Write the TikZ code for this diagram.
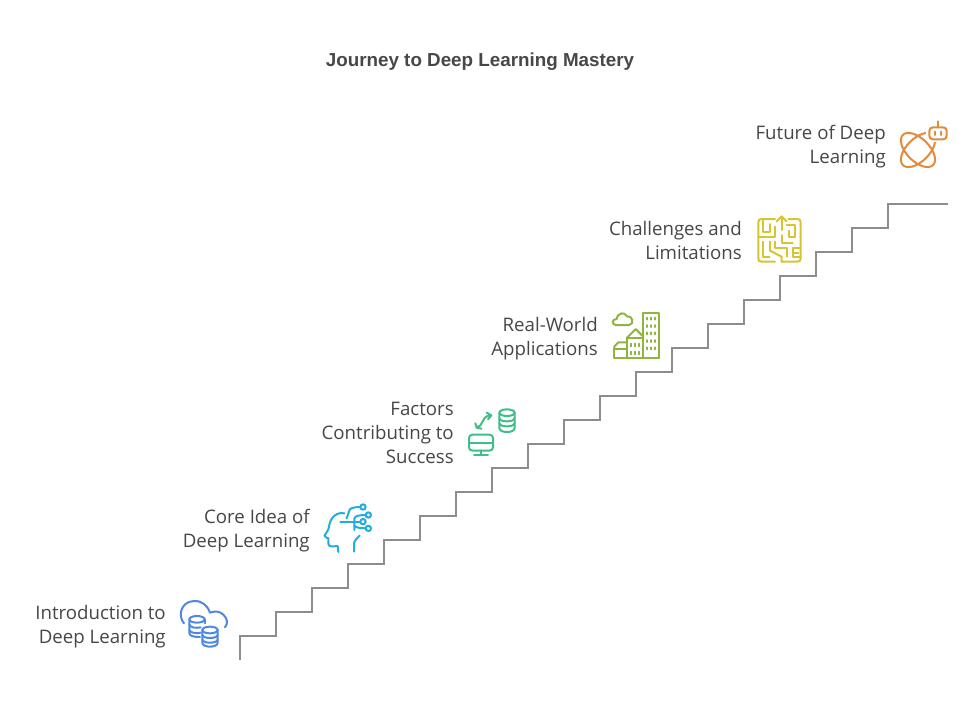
\documentclass[tikz,border=0pt]{standalone}
\usepackage{fontspec}
\setmainfont{Open Sans}
\newfontfamily\ttlfont{Liberation Sans}
\definecolor{ink}{HTML}{474747}
\definecolor{stair}{HTML}{8E8E8E}
\definecolor{cblue}{HTML}{4F88E3}
\definecolor{ccyan}{HTML}{22AEDC}
\definecolor{cgreen}{HTML}{3FBF87}
\definecolor{colive}{HTML}{8FB53F}
\definecolor{cyell}{HTML}{D6C431}
\definecolor{corange}{HTML}{E08B3D}
\tikzset{
  lab/.style={anchor=east,align=right,text=ink,inner sep=0pt,font=\fontsize{14pt}{18pt}\selectfont},
  ttl/.style={anchor=center,text=ink,inner sep=0pt,font=\ttlfont\fontsize{14.1pt}{18pt}\selectfont\bfseries},
  ico/.style={line width=1.5pt,line cap=round,line join=round,x=.25pt,y=-.25pt},
  stairline/.style={draw=stair,line width=1.5pt,line join=miter}
}
\begin{document}
\begin{tikzpicture}[x=.75pt,y=-.75pt]
\useasboundingbox (0,0) rectangle (972,708);
\fill[white] (0,0) rectangle (972,708);
\node[ttl] (title) at (480,62) {Journey to Deep Learning Mastery};
\draw[stairline] (240,660) |- (276,636) |- (312,612) |- (348,588) |- (384,564) |- (420,540) |- (456,516) |- (492,492) |- (528,468) |- (564,444) |- (600,420) |- (636,396) |- (672,372) |- (708,348) |- (744,324) |- (780,300) |- (816,276) |- (852,252) |- (888,228) |- (948,204);
\node[lab] (l1) at (166,627) {\strut Introduction to\\\strut Deep Learning};
\node[lab] (l2) at (310,531) {\strut Core Idea of\\\strut Deep Learning};
\node[lab] (l3) at (454,435) {\strut Factors\\\strut Contributing to\\\strut Success};
\node[lab] (l4) at (598,339) {\strut Real-World\\\strut Applications};
\node[lab] (l5) at (742,243) {\strut Challenges and\\\strut Limitations};
\node[lab] (l6) at (886,147) {\strut Future of Deep\\\strut Learning};
% icon 1
\begin{scope}[shift={(170,590)},ico,draw=cblue]
\draw (42,100) .. controls (24,80) and (30,35) .. (72,33) .. controls (95,32) and (112,45) .. (120,68) .. controls (135,62) and (150,64) .. (160,74) .. controls (172,85) and (175,100) .. (165,112);
\draw[fill=white] (58,88) arc[start angle=180,end angle=-180,x radius=23,y radius=10];
\draw (58,88) -- (58,130) .. controls (58,138) and (72,141) .. (90,141);
\draw (104,88) -- (104,100);
\draw (58,104) .. controls (60,113) and (80,115) .. (92,112);
\draw (58,120) .. controls (60,129) and (80,131) .. (92,128);
\draw[fill=white] (97,120) arc[start angle=180,end angle=-180,x radius=23,y radius=10];
\draw (97,120) -- (97,158) .. controls (97,174) and (143,174) .. (143,158) -- (143,120);
\draw (97,135) .. controls (99,147) and (141,147) .. (143,135);
\draw (97,149) .. controls (99,161) and (141,161) .. (143,149);
\end{scope}
% icon 2
\begin{scope}[shift={(315,495)},ico,draw=ccyan]
\draw (88,55) .. controls (65,50) and (45,68) .. (42,95) .. controls (41,105) and (33,115) .. (28,122) .. controls (30,128) and (38,128) .. (40,130) -- (40,145) .. controls (40,156) and (50,155) .. (68,153) -- (70,171);
\draw (134,122) .. controls (125,130) and (117,138) .. (117,148) -- (117,170);
\draw (76,80) -- (136,80);
\draw (95,70) -- (104,44) .. controls (106,38) and (125,36) .. (136,36);
\draw (118,105) -- (118,72) .. controls (118,62) and (135,60) .. (152,60);
\draw (118,92) .. controls (122,99) and (140,99) .. (152,100);
\draw (144,36) circle[radius=8];
\draw (160,60) circle[radius=8];
\draw (144,80) circle[radius=8];
\draw (160,100) circle[radius=8];
\end{scope}
% icon 3
\begin{scope}[shift={(460,400)},ico,draw=cgreen]
\draw (118,38) arc[start angle=180,end angle=-180,x radius=23,y radius=10];
\draw (118,38) -- (118,84) .. controls (118,100) and (164,100) .. (164,84) -- (164,38);
\draw (118,55) .. controls (120,67) and (162,67) .. (164,55);
\draw (118,70) .. controls (120,82) and (162,82) .. (164,70);
\draw (88,46) .. controls (74,50) and (70,58) .. (67,66) .. controls (64,74) and (60,80) .. (50,82);
\draw (80,38) -- (94,46) -- (84,58);
\draw (46,70) -- (50,83) -- (64,86);
\draw (38,104) -- (88,104) .. controls (95,104) and (99,108) .. (99,114) -- (99,142) .. controls (99,148) and (95,152) .. (88,152) -- (38,152) .. controls (31,152) and (27,148) .. (27,142) -- (27,114) .. controls (27,108) and (31,104) .. (38,104) -- cycle;
\draw (27,130) -- (99,130);
\draw (63,152) -- (63,165);
\draw (42,166) -- (84,166);
\end{scope}
% icon 4
\begin{scope}[shift={(605,305)},ico,draw=colive]
\draw (32,60) .. controls (20,58) and (20,42) .. (35,42) .. controls (38,22) and (60,20) .. (66,34) .. controls (82,30) and (90,58) .. (72,60) -- cycle;
\draw (113,24) rectangle (162,160);
\draw (66,98) -- (92,72) -- (112,92);
\draw (66,98) -- (66,160);
\draw (66,98) -- (113,98);
\draw (28,160) rectangle (66,132);
\draw (28,132) -- (28,124) -- (40,112) -- (66,112);
\draw (28,160) -- (162,160);
\foreach \y in {38,60,82,105,127}{\foreach \x in {126,138,150}{\draw (\x,\y) -- (\x,\y+6);}}
\foreach \y in {116,140}{\foreach \x in {78,90,102}{\draw (\x,\y) -- (\x,\y+8);}}
\end{scope}
% icon 5
\begin{scope}[shift={(750,210)},ico,draw=cyell]
\draw (75,27) -- (35,27) .. controls (28,27) and (25,30) .. (25,37) -- (25,145) .. controls (25,152) and (28,155) .. (35,155) -- (75,155);
\draw (115,27) -- (142,27) .. controls (149,27) and (152,30) .. (152,37) -- (152,145) .. controls (152,152) and (149,155) .. (142,155) -- (95,155);
\draw (95,60) -- (95,20);
\draw (80,34) -- (95,19) -- (110,34);
\draw (40,27) -- (40,66) -- (60,66) -- (60,42);
\draw (25,80) -- (76,80) -- (76,50);
\draw (40,95) -- (40,140) -- (58,140);
\draw (60,95) -- (60,122) -- (95,140) -- (95,155);
\draw (76,95) -- (76,115) -- (110,115) -- (110,140);
\draw (95,76) -- (95,98) -- (128,98);
\draw (110,45) -- (135,45) -- (135,80) -- (118,80) -- (118,62);
\draw (128,115) -- (128,140) -- (152,140);
\draw (128,115) -- (152,115);
\draw (128,128) -- (145,128);
\end{scope}
% icon 6
\begin{scope}[shift={(892,115)},ico,draw=corange]
\draw[rotate around={45:(78,105)}] (78,105) circle[x radius=64,y radius=34];
\draw[rotate around={-45:(78,105)}] (78,105) circle[x radius=64,y radius=34];
\draw[fill=white,draw=white,line width=4.5pt] (112,37) rectangle (164,73);
\draw (123,37) -- (153,37) .. controls (160,37) and (164,41) .. (164,48) -- (164,62) .. controls (164,69) and (160,73) .. (153,73) -- (123,73) .. controls (116,73) and (112,69) .. (112,62) -- (112,48) .. controls (112,41) and (116,37) .. (123,37) -- cycle;
\draw (138,37) -- (138,19);
\draw (129,50) -- (129,60);
\draw (147,50) -- (147,60);
\end{scope}
\end{tikzpicture}
\end{document}
